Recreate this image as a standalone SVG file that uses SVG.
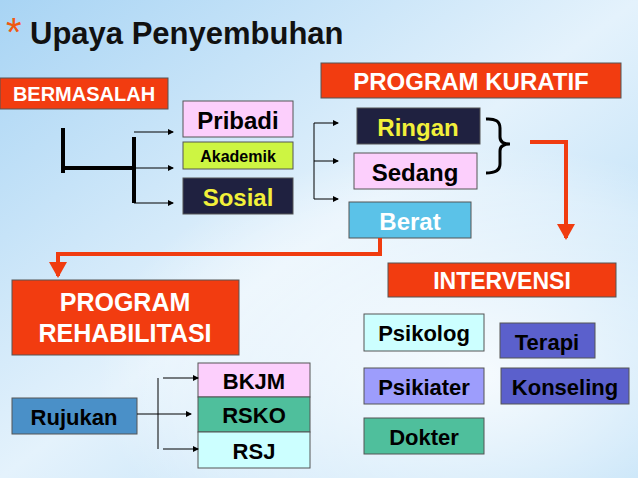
<svg xmlns="http://www.w3.org/2000/svg" width="638" height="478" viewBox="0 0 638 478">
<defs>
<linearGradient id="bg" x1="0" y1="0" x2="1" y2="1"><stop offset="0" stop-color="#a8d4f4"/><stop offset="0.5" stop-color="#e4f2fc"/><stop offset="1" stop-color="#a9d6f5"/></linearGradient>
<radialGradient id="sw" cx="0.6" cy="0.62" r="0.5"><stop offset="0" stop-color="#ffffff" stop-opacity="0.85"/><stop offset="0.8" stop-color="#ffffff" stop-opacity="0.3"/><stop offset="1" stop-color="#ffffff" stop-opacity="0"/></radialGradient>
<marker id="a" markerWidth="6" markerHeight="6" refX="5" refY="3" orient="auto" markerUnits="userSpaceOnUse"><path d="M0,0L6,3L0,6z" fill="#000"/></marker>
<marker id="r" markerWidth="18" markerHeight="16" refX="9" refY="14" orient="0" markerUnits="userSpaceOnUse"><path d="M0,0L18,0L9,16z" fill="#f03c10"/></marker>
<style>
.b{stroke:#555;stroke-width:1}
.t{font-family:"Liberation Sans",Arial,sans-serif;font-weight:bold;text-anchor:middle;dominant-baseline:central}
.red{fill:#f23c10}
.w{fill:#fff}
.k{fill:#000}
.ln{stroke:#000;fill:none;stroke-width:1}
</style>
</defs>
<rect width="638" height="478" fill="url(#bg)"/>
<ellipse cx="400" cy="320" rx="380" ry="230" fill="url(#sw)"/>
<g id="title"><text x="6" y="46" font-family="Liberation Sans,sans-serif" font-size="40" fill="#f05a10">*</text><text x="30" y="44" font-family="Liberation Sans,sans-serif" font-weight="bold" font-size="31" fill="#111">Upaya Penyembuhan</text></g>
<g id="bermasalah"><rect x="0" y="78" width="168" height="31" class="red b"/><text x="84" y="94" class="t w" font-size="20">BERMASALAH</text></g>
<g id="pribadi"><rect x="183" y="101" width="110" height="36" fill="#fccffc" class="b"/><text x="238" y="120" class="t k" font-size="24">Pribadi</text></g>
<g id="akademik"><rect x="183" y="142" width="110" height="27" fill="#cdf542" class="b"/><text x="238" y="156" class="t k" font-size="16">Akademik</text></g>
<g id="sosial"><rect x="183" y="178" width="110" height="36" fill="#1f2140" class="b"/><text x="238" y="197" class="t" fill="#f2f03a" font-size="24">Sosial</text></g>
<g id="kuratif"><rect x="321" y="63" width="300" height="35" class="red b"/><text x="471" y="81" class="t w" font-size="24">PROGRAM KURATIF</text></g>
<g id="ringan"><rect x="357" y="108" width="123" height="36" fill="#1f2140" class="b"/><text x="418" y="127" class="t" fill="#f2f03a" font-size="24">Ringan</text></g>
<g id="sedang"><rect x="354" y="153" width="123" height="36" fill="#fccffc" class="b"/><text x="415" y="172" class="t k" font-size="24">Sedang</text></g>
<g id="berat"><rect x="349" y="202" width="122" height="36" fill="#5bc2e8" class="b"/><text x="410" y="221" class="t w" font-size="24">Berat</text></g>
<g id="rehab"><rect x="12" y="280" width="227" height="75" class="red b"/><text x="125" y="302" class="t w" font-size="25">PROGRAM</text><text x="125" y="333" class="t w" font-size="25">REHABILITASI</text></g>
<g id="intervensi"><rect x="388" y="263" width="228" height="34" class="red b"/><text x="502" y="281" class="t w" font-size="23">INTERVENSI</text></g>
<g id="psikolog"><rect x="364" y="314" width="120" height="37" fill="#ccffff" class="b"/><text x="424" y="333" class="t k" font-size="22">Psikolog</text></g>
<g id="psikiater"><rect x="364" y="368" width="120" height="36" fill="#9d9dfc" class="b"/><text x="424" y="387" class="t k" font-size="22">Psikiater</text></g>
<g id="dokter"><rect x="364" y="418" width="120" height="36" fill="#4fbf9c" class="b"/><text x="424" y="437" class="t k" font-size="22">Dokter</text></g>
<g id="terapi"><rect x="500" y="323" width="95" height="35" fill="#5b60cc" class="b"/><text x="547" y="342" class="t k" font-size="22">Terapi</text></g>
<g id="konseling"><rect x="501" y="368" width="128" height="36" fill="#5b60cc" class="b"/><text x="565" y="387" class="t k" font-size="22">Konseling</text></g>
<g id="rujukan"><rect x="12" y="398" width="125" height="36" fill="#4a90c8" class="b"/><text x="74" y="417" class="t k" font-size="22">Rujukan</text></g>
<g id="bkjm"><rect x="198" y="363" width="112" height="34" fill="#fccffc" class="b"/><text x="254" y="381" class="t k" font-size="22">BKJM</text></g>
<g id="rsko"><rect x="198" y="397" width="112" height="35" fill="#4fbf9c" class="b"/><text x="254" y="415" class="t k" font-size="22">RSKO</text></g>
<g id="rsj"><rect x="198" y="432" width="112" height="36" fill="#ccffff" class="b"/><text x="254" y="451" class="t k" font-size="22">RSJ</text></g>
<g id="connectors">
<path d="M63,128V173M63,168H134M134,137V203" stroke="#000" stroke-width="4" fill="none"/>
<path d="M134,132H173" class="ln" marker-end="url(#a)"/>
<path d="M134,168H173" class="ln" marker-end="url(#a)"/>
<path d="M134,203H173" class="ln" marker-end="url(#a)"/>
<path d="M314,123V199" class="ln"/>
<path d="M314,123H338" class="ln" marker-end="url(#a)"/>
<path d="M314,161H338" class="ln" marker-end="url(#a)"/>
<path d="M314,199H338" class="ln" marker-end="url(#a)"/>
<path d="M486,119Q500,118 500,128V137Q500,144 510,144Q500,144 500,151V164Q500,173 486,173" stroke="#000" stroke-width="3" fill="none"/>
<path d="M530,142H566V238" stroke="#f03c10" stroke-width="4" fill="none" marker-end="url(#r)"/>
<path d="M380,238V254H58V276" stroke="#f03c10" stroke-width="4" fill="none" marker-end="url(#r)"/>
<path d="M158,378V449" class="ln"/>
<path d="M163,378H198" class="ln" marker-end="url(#a)"/>
<path d="M137,414H191" class="ln" marker-end="url(#a)"/>
<path d="M163,449H198" class="ln" marker-end="url(#a)"/>
</g>
</svg>
